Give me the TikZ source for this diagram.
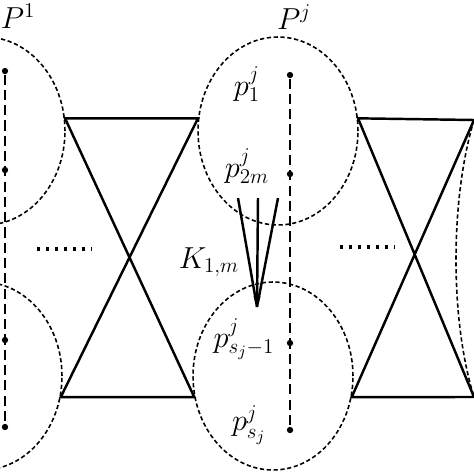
\documentclass[tikz,border=0pt]{standalone}
\usetikzlibrary{positioning,shapes.geometric,arrows.meta}
\tikzset{
    cluster/.style={draw, ellipse, dash pattern=on 2.4pt off 1.5pt, line width=0.9pt,
        minimum width=3.2cm, minimum height=3.76cm, inner sep=0pt},
    clusterline/.style={dash pattern=on 2.4pt off 1.5pt, line width=0.9pt},
    vtx/.style={circle, fill, inner sep=0pt, minimum size=3.6pt},
    chain/.style={line width=1.1pt, dash pattern=on 5.8pt off 2.9pt},
    edge/.style={line width=1.4pt},
    lbl/.style={font=\fontsize{18}{20}\selectfont, inner sep=0pt},
    dotrow/.style={line width=1.9pt, dash pattern=on 1.9pt off 3.2pt}
}
\begin{document}
\begin{tikzpicture}[x=0.02cm,y=-0.02cm]
    \useasboundingbox (0,0) rectangle (474,474);
    % groups
    \node[cluster] (gL1) at (-15,131) {};
    \node[cluster] (gL2) at (-18,376) {};
    \node[cluster] (gM1) at (278,131) {};
    \node[cluster] (gM2) at (273,376) {};
    \coordinate (r1) at (474,120);
    \coordinate (r2) at (474,397);
    \draw[clusterline] (r1) .. controls (450,200) and (450,320) .. (r2);
    % vertices
    \foreach \n/\y in {1/71,2/170,3/340,4/427}
        \node[vtx] (a\n) at (5,\y) {};
    \foreach \n/\y in {1/75,2/174,3/343,4/430}
        \node[vtx] (b\n) at (290,\y) {};
    \draw[chain] (a1) -- (a4);
    \draw[chain] (b1) -- (b4);
    % labels
    \node[lbl] (P1) at (18,16) {$P^1$};
    \node[lbl] (Pj) at (294,17) {$P^j$};
    \node[lbl] (p1) at (247,84) {$p^j_1$};
    \node[lbl] (p2m) at (247,166) {$p^j_{2m}$};
    \node[lbl] (psm) at (244,339) {$p^j_{s_j-1}$};
    \node[lbl] (ps) at (249,425) {$p^j_{s_j}$};
    \node[lbl] (K) at (209,262) {$K_{1,m}$};
    % bipartite links
    \draw[edge] (gL1.9) -- (gM1.171) -- (gL2.-15) -- (gM2.195) -- cycle;
    \draw[edge] (gM1.9) -- (r1) -- (gM2.-15) -- (r2) -- cycle;
    % star
    \coordinate (kTip) at (257,307);
    \coordinate (k1) at (238,198);
    \coordinate (k2) at (258,198);
    \coordinate (k3) at (278,198);
    \draw[edge] (k1) -- (kTip);
    \draw[edge] (k3) -- (kTip);
    \draw[edge,-{Stealth[length=6pt,width=4pt]}] (k2) -- (kTip);
    % gaps
    \coordinate (dL1) at (37,249);
    \coordinate (dL2) at (92,249);
    \coordinate (dR1) at (340,247);
    \coordinate (dR2) at (395,247);
    \draw[dotrow] (dL1) -- (dL2);
    \draw[dotrow] (dR1) -- (dR2);
\end{tikzpicture}
\end{document}
